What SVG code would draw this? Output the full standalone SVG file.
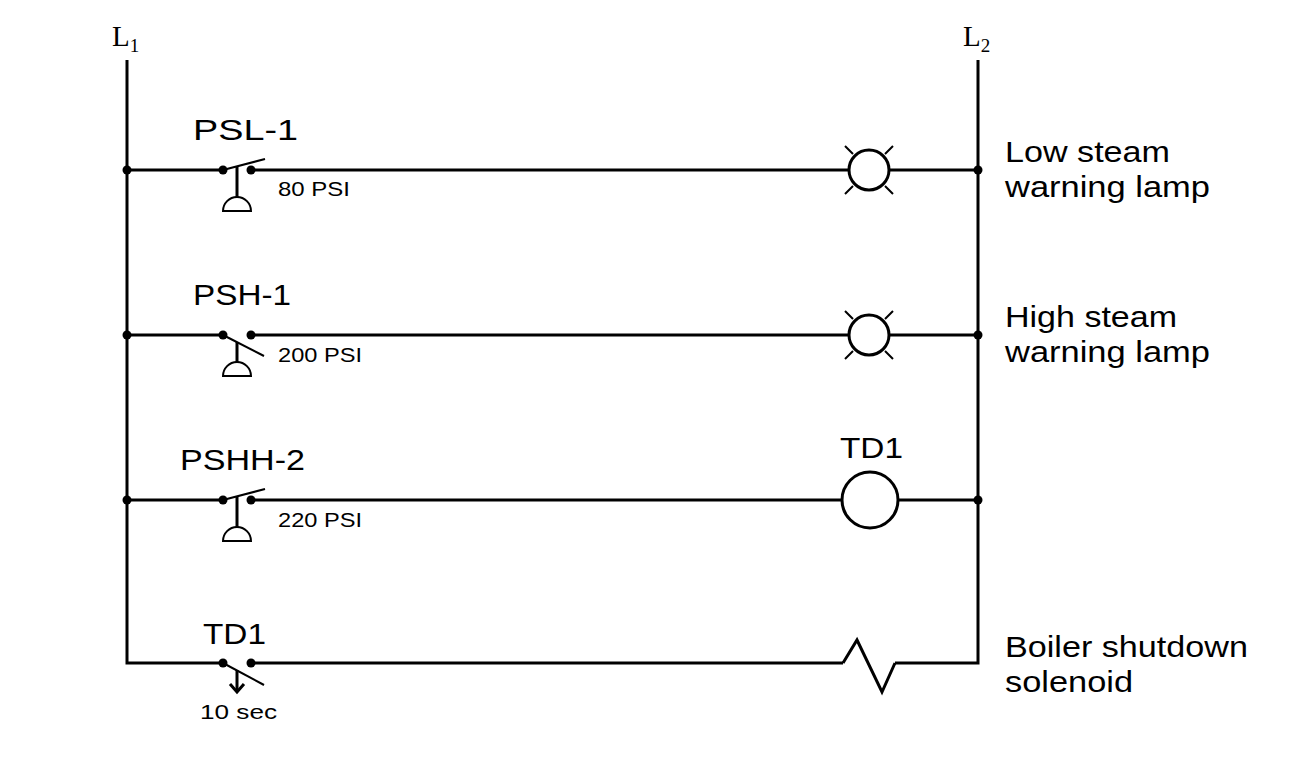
<svg xmlns="http://www.w3.org/2000/svg" width="1290" height="757" viewBox="0 0 1290 757">
<style>
.w{stroke:#000;stroke-width:3;fill:none}
.t{stroke:#000;stroke-width:2;fill:none}
.d{fill:#000}
.lb{font-family:"Liberation Sans",Arial,sans-serif;font-size:30px}
.sm{font-family:"Liberation Sans",Arial,sans-serif;font-size:21px}
.rl{font-family:"Liberation Serif",serif;font-size:29px}
</style>
<rect width="1290" height="757" fill="#fff"/>
<g id="connectors">
<polyline class="w" points="127,60 127,663 223,663"/>
<polyline class="w" points="978,60 978,663 895,663"/>
<line class="w" x1="127" y1="170" x2="223" y2="170"/><line class="w" x1="251" y1="170" x2="849" y2="170"/><line class="w" x1="889" y1="170" x2="978" y2="170"/>
<line class="w" x1="127" y1="335" x2="223" y2="335"/><line class="w" x1="251" y1="335" x2="849" y2="335"/><line class="w" x1="889" y1="335" x2="978" y2="335"/>
<line class="w" x1="127" y1="500" x2="223" y2="500"/><line class="w" x1="251" y1="500" x2="842" y2="500"/><line class="w" x1="898" y1="500" x2="978" y2="500"/>
<line class="w" x1="251" y1="663" x2="843" y2="663"/>
<circle class="d" cx="127" cy="170" r="4.5"/><circle class="d" cx="978" cy="170" r="4.5"/>
<circle class="d" cx="127" cy="335" r="4.5"/><circle class="d" cx="978" cy="335" r="4.5"/>
<circle class="d" cx="127" cy="500" r="4.5"/><circle class="d" cx="978" cy="500" r="4.5"/>
</g>
<g id="L1"><text class="rl" x="112" y="46">L<tspan font-size="19" dy="6">1</tspan></text></g>
<g id="L2"><text class="rl" x="963" y="46">L<tspan font-size="19" dy="6">2</tspan></text></g>
<g id="PSL-1">
<circle class="d" cx="223" cy="170" r="4.5"/><circle class="d" cx="251" cy="170" r="4.5"/>
<line class="t" x1="223" y1="170" x2="265" y2="159"/>
<line class="w" x1="237" y1="167" x2="237" y2="197"/>
<path class="t" d="M223,211 A14,14 0 0 1 251,211 Z"/>
<text class="lb" x="193" y="140" textLength="105" lengthAdjust="spacingAndGlyphs">PSL-1</text>
<text class="sm" x="278" y="196" textLength="72" lengthAdjust="spacingAndGlyphs">80 PSI</text>
</g>
<g id="PSH-1">
<circle class="d" cx="223" cy="335" r="4.5"/><circle class="d" cx="251" cy="335" r="4.5"/>
<line class="t" x1="223" y1="335" x2="264" y2="356"/>
<line class="w" x1="237" y1="342" x2="237" y2="362"/>
<path class="t" d="M223,376 A14,14 0 0 1 251,376 Z"/>
<text class="lb" x="193" y="305" textLength="98" lengthAdjust="spacingAndGlyphs">PSH-1</text>
<text class="sm" x="278" y="362" textLength="84" lengthAdjust="spacingAndGlyphs">200 PSI</text>
</g>
<g id="PSHH-2">
<circle class="d" cx="223" cy="500" r="4.5"/><circle class="d" cx="251" cy="500" r="4.5"/>
<line class="t" x1="223" y1="500" x2="265" y2="489"/>
<line class="w" x1="237" y1="497" x2="237" y2="527"/>
<path class="t" d="M223,541 A14,14 0 0 1 251,541 Z"/>
<text class="lb" x="180" y="470" textLength="125" lengthAdjust="spacingAndGlyphs">PSHH-2</text>
<text class="sm" x="278" y="527" textLength="84" lengthAdjust="spacingAndGlyphs">220 PSI</text>
</g>
<g id="TD1-contact">
<circle class="d" cx="223" cy="663" r="4.5"/><circle class="d" cx="251" cy="663" r="4.5"/>
<line class="t" x1="223" y1="663" x2="264" y2="685"/>
<line class="w" x1="237" y1="670" x2="237" y2="692"/>
<polyline class="w" points="230,684 237,692 244,684"/>
<text class="lb" x="203" y="644" textLength="63" lengthAdjust="spacingAndGlyphs">TD1</text>
<text class="sm" x="200" y="719" textLength="77" lengthAdjust="spacingAndGlyphs">10 sec</text>
</g>
<g id="lamp-low">
<circle class="w" cx="869" cy="170" r="20"/>
<path class="t" d="M845,146 L853,154 M893,146 L885,154 M845,194 L853,186 M893,194 L885,186"/>
<text class="lb" x="1005" y="162" textLength="165" lengthAdjust="spacingAndGlyphs">Low steam</text><text class="lb" x="1005" y="197" textLength="205" lengthAdjust="spacingAndGlyphs">warning lamp</text>
</g>
<g id="lamp-high">
<circle class="w" cx="869" cy="335" r="20"/>
<path class="t" d="M845,311 L853,319 M893,311 L885,319 M845,359 L853,351 M893,359 L885,351"/>
<text class="lb" x="1005" y="327" textLength="172" lengthAdjust="spacingAndGlyphs">High steam</text><text class="lb" x="1005" y="362" textLength="205" lengthAdjust="spacingAndGlyphs">warning lamp</text>
</g>
<g id="TD1-coil">
<circle class="w" cx="870" cy="500" r="28"/>
<text class="lb" x="840" y="458" textLength="63" lengthAdjust="spacingAndGlyphs">TD1</text>
</g>
<g id="solenoid">
<polyline class="w" points="843,663 857,640 882,692 895,663"/>
<text class="lb" x="1005" y="657" textLength="243" lengthAdjust="spacingAndGlyphs">Boiler shutdown</text><text class="lb" x="1005" y="692" textLength="128" lengthAdjust="spacingAndGlyphs">solenoid</text>
</g>
</svg>
